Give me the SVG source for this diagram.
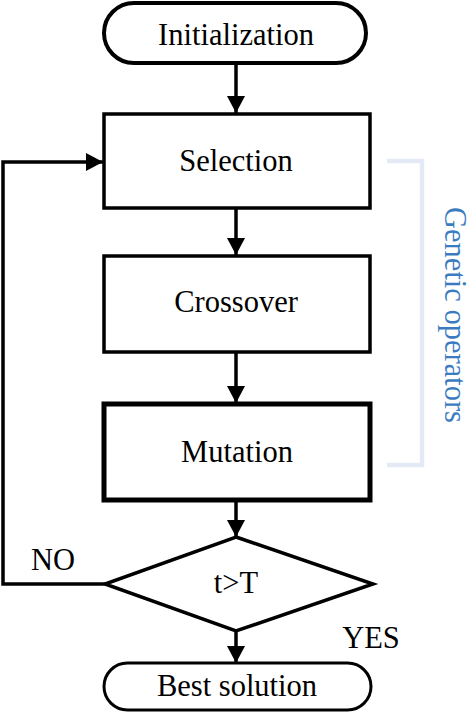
<svg xmlns="http://www.w3.org/2000/svg" width="473" height="720" viewBox="0 0 473 720">
<defs>
<marker id="ah" markerUnits="userSpaceOnUse" markerWidth="17" markerHeight="18" refX="17" refY="9" orient="auto">
<path d="M0,0 L17,9 L0,18 z" fill="#000"/>
</marker>
<style>
.box{fill:#fff;stroke:#000}
.t{font-family:"Liberation Serif","Times New Roman",serif;font-size:30.5px;fill:#000;text-anchor:middle}
.c{fill:none;stroke:#000;stroke-width:3.5}
</style>
</defs>
<rect width="473" height="720" fill="#fff"/>
<g id="connectors">
<line class="c" x1="236" y1="63" x2="236" y2="113" marker-end="url(#ah)"/>
<line class="c" x1="236" y1="208" x2="236" y2="255" marker-end="url(#ah)"/>
<line class="c" x1="236" y1="352" x2="236" y2="403" marker-end="url(#ah)"/>
<line class="c" x1="236" y1="501" x2="236" y2="537" marker-end="url(#ah)"/>
<line class="c" x1="236" y1="631" x2="236" y2="663" marker-end="url(#ah)"/>
<polyline class="c" points="106,584 3,584 3,162 103,162" marker-end="url(#ah)"/>
</g>
<g id="init">
<rect class="box" x="104" y="3" width="262" height="60" rx="30" stroke-width="4"/>
<text class="t" x="236" y="45">Initialization</text>
</g>
<g id="selection">
<rect class="box" x="104" y="114" width="266" height="94" stroke-width="3.5"/>
<text class="t" x="236" y="171">Selection</text>
</g>
<g id="crossover">
<rect class="box" x="104" y="256" width="266" height="96" stroke-width="3.5"/>
<text class="t" x="236" y="312">Crossover</text>
</g>
<g id="mutation">
<rect class="box" x="104" y="404" width="266" height="96" stroke-width="5"/>
<text class="t" x="237" y="462">Mutation</text>
</g>
<g id="decision">
<polygon class="box" points="236,537 373,584 236,631 105,584" stroke-width="3.5"/>
<text class="t" x="236" y="593">t&gt;T</text>
</g>
<g id="best">
<rect class="box" x="104" y="663" width="267" height="47" rx="23.5" stroke-width="3"/>
<text class="t" x="237" y="696">Best solution</text>
</g>
<g id="labels">
<text class="t" x="53" y="570">NO</text>
<text class="t" x="371" y="648">YES</text>
</g>
<g id="genetic-operators">
<polyline points="387,161 422,161 422,465 387,465" fill="none" stroke="#e4eaf5" stroke-width="4.5"/>
<text class="t" x="0" y="0" transform="translate(445,315) rotate(90)" style="fill:#3b7cc0">Genetic operators</text>
</g>
</svg>
